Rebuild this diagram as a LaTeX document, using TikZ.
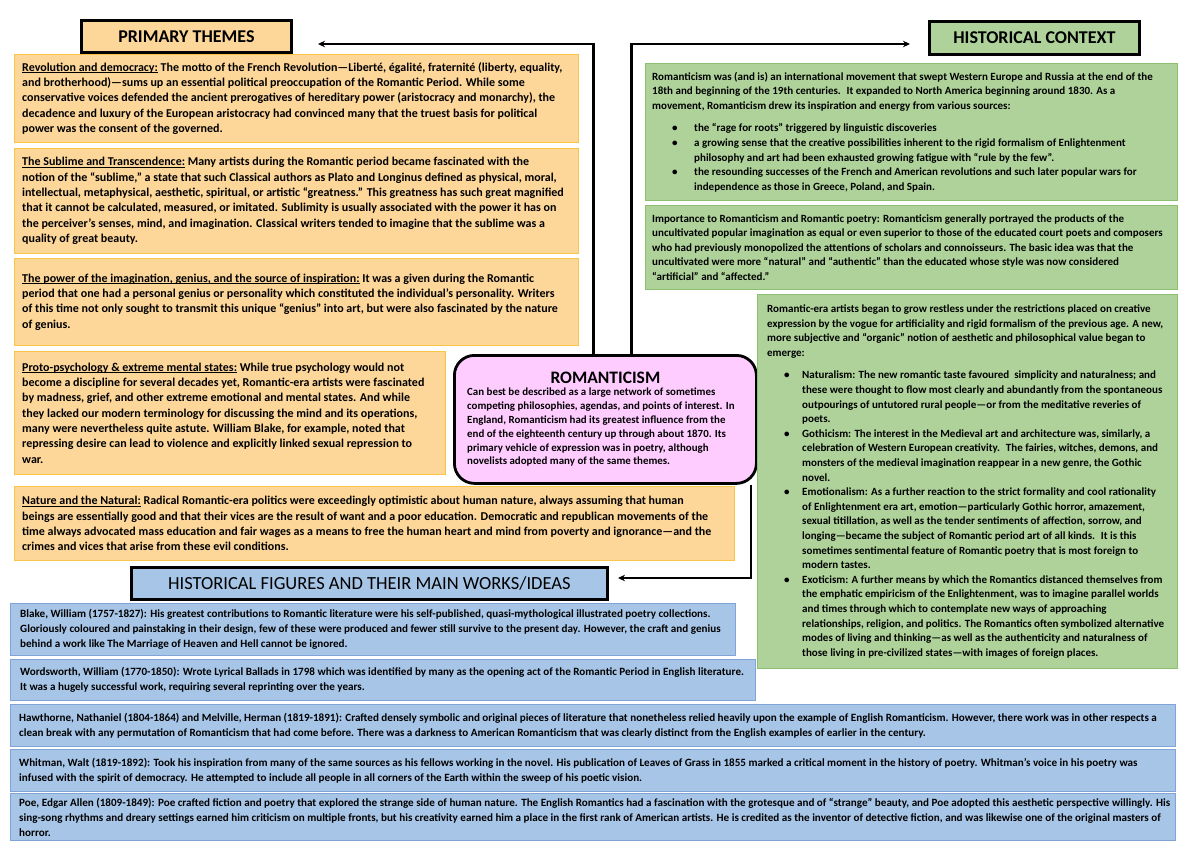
\documentclass[tikz,border=0pt]{standalone}
\usepackage{fontspec}
\setmainfont{Carlito}
\usetikzlibrary{arrows.meta}
\definecolor{ofill}{RGB}{253,214,153}
\definecolor{oline}{RGB}{250,196,70}
\definecolor{gfill}{RGB}{174,210,154}
\definecolor{gline}{RGB}{140,192,112}
\definecolor{bfill}{RGB}{167,197,231}
\definecolor{bline}{RGB}{128,164,214}
\definecolor{pfill}{RGB}{255,204,255}
\newcommand\gitemA[1]{\hspace*{20pt}\makebox[22pt][l]{\textbullet}#1}
\newcommand\gcontA[1]{\hspace*{42pt}#1}
\newcommand\gitemB[1]{\hspace*{17pt}\makebox[18pt][l]{\textbullet}#1}
\newcommand\gcontB[1]{\hspace*{35pt}#1}
\newcommand\myul[1]{\setbox0\hbox{#1}\rlap{\rule[-1.6pt]{\wd0}{0.7pt}}\box0\relax}
\tikzset{
  obox/.style={draw=oline, line width=1pt, fill=ofill, anchor=north west, inner sep=0pt},
  gbox/.style={draw=gline, line width=1pt, fill=gfill, anchor=north west, inner sep=0pt},
  bbox/.style={draw=bline, line width=1pt, fill=bfill, anchor=north west, inner sep=0pt},
  titlebox/.style={draw=black, line width=2.8pt, anchor=north west, inner sep=0pt},
  otext/.style={anchor=west, align=left, inner sep=0pt, font=\bfseries\fontsize{12}{15.3}\selectfont},
  gtext/.style={anchor=west, align=left, inner sep=0pt, font=\bfseries\fontsize{11}{14.6}\selectfont},
  btext/.style={anchor=west, align=left, inner sep=0pt, font=\bfseries\fontsize{11.1}{15}\selectfont},
  rtext/.style={anchor=north west, align=left, inner sep=0pt, font=\bfseries\fontsize{10.9}{13.8}\selectfont},
  conn/.style={draw=black, line width=2.2pt, -{Stealth[length=7pt,width=6.5pt]}},
}
\begin{document}
\begin{tikzpicture}[x=1pt,y=-1pt]
\fill[white] (0,0) rectangle (1200,848);
\useasboundingbox (0,0) rectangle (1200,848);

% ---------- titles ----------
\node[titlebox, fill=ofill, minimum width=210pt, minimum height=32pt, font=\bfseries\fontsize{18}{20}\selectfont] (pt) at (80,19) {PRIMARY THEMES};
\node[titlebox, fill=gfill, minimum width=210pt, minimum height=33pt, font=\bfseries\fontsize{18}{20}\selectfont] (hc) at (928,20) {HISTORICAL CONTEXT};
\node[titlebox, fill=bfill, minimum width=476pt, minimum height=32pt, font=\fontsize{18.5}{20}\selectfont] (hf) at (130,566) {HISTORICAL FIGURES AND THEIR MAIN WORKS/IDEAS};

% ---------- primary themes ----------
\node[obox, minimum width=564pt, minimum height=88pt] (rev) at (14,54) {};
\node[otext] (revT) at ([xshift=8pt]rev.west) {\myul{Revolution and democracy:} The motto of the French Revolution—Liberté, égalité, fraternité (liberty, equality,\\
and brotherhood)—sums up an essential political preoccupation of the Romantic Period. While some\\
conservative voices defended the ancient prerogatives of hereditary power (aristocracy and monarchy), the\\
decadence and luxury of the European aristocracy had convinced many that the truest basis for political\\
power was the consent of the governed.};

\node[obox, minimum width=564pt, minimum height=105pt] (sub) at (14,148) {};
\node[otext] (subT) at ([xshift=8pt]sub.west) {\myul{The Sublime and Transcendence:} Many artists during the Romantic period became fascinated with the\\
notion of the “sublime,” a state that such Classical authors as Plato and Longinus defined as physical, moral,\\
intellectual, metaphysical, aesthetic, spiritual, or artistic “greatness.” This greatness has such great magnified\\
that it cannot be calculated, measured, or imitated. Sublimity is usually associated with the power it has on\\
the perceiver’s senses, mind, and imagination. Classical writers tended to imagine that the sublime was a\\
quality of great beauty.};

\node[obox, minimum width=564pt, minimum height=87pt] (pow) at (14,258) {};
\node[otext] (powT) at ([xshift=8pt]pow.west) {\myul{The power of the imagination, genius, and the source of inspiration:} It was a given during the Romantic\\
period that one had a personal genius or personality which constituted the individual’s personality. Writers\\
of this time not only sought to transmit this unique “genius” into art, but were also fascinated by the nature\\
of genius.};

\node[obox, minimum width=431pt, minimum height=123pt] (pro) at (14,351) {};
\node[otext] (proT) at ([xshift=8pt]pro.west) {\myul{Proto-psychology \& extreme mental states:} While true psychology would not\\
become a discipline for several decades yet, Romantic-era artists were fascinated\\
by madness, grief, and other extreme emotional and mental states. And while\\
they lacked our modern terminology for discussing the mind and its operations,\\
many were nevertheless quite astute. William Blake, for example, noted that\\
repressing desire can lead to violence and explicitly linked sexual repression to\\
war.};

\node[obox, minimum width=720pt, minimum height=74pt] (nat) at (14,486) {};
\node[otext] (natT) at ([xshift=8pt]nat.west) {\myul{Nature and the Natural:} Radical Romantic-era politics were exceedingly optimistic about human nature, always assuming that human\\
beings are essentially good and that their vices are the result of want and a poor education. Democratic and republican movements of the\\
time always advocated mass education and fair wages as a means to free the human heart and mind from poverty and ignorance—and the\\
crimes and vices that arise from these evil conditions.};

% ---------- central ----------
\node[draw=black, line width=2.8pt, fill=pfill, rounded corners=20pt, anchor=north west, inner sep=0pt, minimum width=302pt, minimum height=128pt] (rom) at (453,354) {};
\node[anchor=center, inner sep=0pt, font=\bfseries\fontsize{17.5}{20}\selectfont] (romH) at ([yshift=-24pt]rom.north) {ROMANTICISM};
\node[rtext] (romT) at ([xshift=14pt,yshift=-34pt]rom.north west) {Can best be described as a large network of sometimes\\
competing philosophies, agendas, and points of interest. In\\
England, Romanticism had its greatest influence from the\\
end of the eighteenth century up through about 1870. Its\\
primary vehicle of expression was in poetry, although\\
novelists adopted many of the same themes.};

% ---------- historical context ----------
\node[gbox, minimum width=532pt, minimum height=137pt] (g1) at (645,63) {};
\node[gtext] (g1T) at ([xshift=7pt]g1.west) {Romanticism was (and is) an international movement that swept Western Europe and Russia at the end of the\\
18th and beginning of the 19th centuries.~ It expanded to North America beginning around 1830. As a\\
movement, Romanticism drew its inspiration and energy from various sources:\\[8pt]
\gitemA{the “rage for roots” triggered by linguistic discoveries}\\
\gitemA{a growing sense that the creative possibilities inherent to the rigid formalism of Enlightenment}\\
\gcontA{philosophy and art had been exhausted growing fatigue with “rule by the few”.}\\
\gitemA{the resounding successes of the French and American revolutions and such later popular wars for}\\
\gcontA{independence as those in Greece, Poland, and Spain.}};

\node[gbox, minimum width=532pt, minimum height=84pt] (g2) at (645,205) {};
\node[gtext] (g2T) at ([xshift=7pt]g2.west) {Importance to Romanticism and Romantic poetry: Romanticism generally portrayed the products of the\\
uncultivated popular imagination as equal or even superior to those of the educated court poets and composers\\
who had previously monopolized the attentions of scholars and connoisseurs. The basic idea was that the\\
uncultivated were more “natural” and “authentic” than the educated whose style was now considered\\
“artificial” and “affected.”};

\node[gbox, minimum width=420pt, minimum height=374pt] (g3) at (757,294) {};
\node[gtext] (g3T) at ([xshift=10pt]g3.west) {Romantic-era artists began to grow restless under the restrictions placed on creative\\
expression by the vogue for artificiality and rigid formalism of the previous age. A new,\\
more subjective and “organic” notion of aesthetic and philosophical value began to\\
emerge:\\[8pt]
\gitemB{Naturalism: The new romantic taste favoured~ simplicity and naturalness; and}\\
\gcontB{these were thought to flow most clearly and abundantly from the spontaneous}\\
\gcontB{outpourings of untutored rural people—or from the meditative reveries of}\\
\gcontB{poets.}\\
\gitemB{Gothicism: The interest in the Medieval art and architecture was, similarly, a}\\
\gcontB{celebration of Western European creativity.~ The fairies, witches, demons, and}\\
\gcontB{monsters of the medieval imagination reappear in a new genre, the Gothic}\\
\gcontB{novel.}\\
\gitemB{Emotionalism: As a further reaction to the strict formality and cool rationality}\\
\gcontB{of Enlightenment era art, emotion—particularly Gothic horror, amazement,}\\
\gcontB{sexual titillation, as well as the tender sentiments of affection, sorrow, and}\\
\gcontB{longing—became the subject of Romantic period art of all kinds.~ It is this}\\
\gcontB{sometimes sentimental feature of Romantic poetry that is most foreign to}\\
\gcontB{modern tastes.}\\
\gitemB{Exoticism: A further means by which the Romantics distanced themselves from}\\
\gcontB{the emphatic empiricism of the Enlightenment, was to imagine parallel worlds}\\
\gcontB{and times through which to contemplate new ways of approaching}\\
\gcontB{relationships, religion, and politics. The Romantics often symbolized alternative}\\
\gcontB{modes of living and thinking—as well as the authenticity and naturalness of}\\
\gcontB{those living in pre-civilized states—with images of foreign places.}};

% ---------- historical figures ----------
\node[bbox, minimum width=725pt, minimum height=52pt] (blake) at (10,603) {};
\node[btext] (blakeT) at ([xshift=10pt]blake.west) {Blake, William (1757-1827): His greatest contributions to Romantic literature were his self-published, quasi-mythological illustrated poetry collections.\\
Gloriously coloured and painstaking in their design, few of these were produced and fewer still survive to the present day. However, the craft and genius\\
behind a work like The Marriage of Heaven and Hell cannot be ignored.};

\node[bbox, minimum width=745pt, minimum height=41pt] (words) at (10,659) {};
\node[btext] (wordsT) at ([xshift=10pt]words.west) {Wordsworth, William (1770-1850): Wrote Lyrical Ballads in 1798 which was identified by many as the opening act of the Romantic Period in English literature.\\
It was a hugely successful work, requiring several reprinting over the years.};

\node[bbox, minimum width=1165pt, minimum height=42pt] (haw) at (10,704) {};
\node[btext] (hawT) at ([xshift=9pt]haw.west) {Hawthorne, Nathaniel (1804-1864) and Melville, Herman (1819-1891): Crafted densely symbolic and original pieces of literature that nonetheless relied heavily upon the example of English Romanticism. However, there work was in other respects a\\
clean break with any permutation of Romanticism that had come before. There was a darkness to American Romanticism that was clearly distinct from the English examples of earlier in the century.};

\node[bbox, minimum width=1165pt, minimum height=42pt] (whit) at (10,749) {};
\node[btext] (whitT) at ([xshift=9pt]whit.west) {Whitman, Walt (1819-1892): Took his inspiration from many of the same sources as his fellows working in the novel. His publication of Leaves of Grass in 1855 marked a critical moment in the history of poetry. Whitman’s voice in his poetry was\\
infused with the spirit of democracy. He attempted to include all people in all corners of the Earth within the sweep of his poetic vision.};

\node[bbox, minimum width=1165pt, minimum height=47pt] (poe) at (10,793) {};
\node[btext] (poeT) at ([xshift=9pt]poe.west) {Poe, Edgar Allen (1809-1849): Poe crafted fiction and poetry that explored the strange side of human nature. The English Romantics had a fascination with the grotesque and of “strange” beauty, and Poe adopted this aesthetic perspective willingly. His\\
sing-song rhythms and dreary settings earned him criticism on multiple fronts, but his creativity earned him a place in the first rank of American artists. He is credited as the inventor of detective fiction, and was likewise one of the original masters of\\
horror.};

% ---------- connectors ----------
\coordinate (ptTip) at (318,44);
\coordinate (hcTip) at (910,44);
\coordinate (hfTip) at (618,578);
\draw[conn] ([xshift=-12pt]rom.north) |- (ptTip);
\draw[conn] ([xshift=26pt]rom.north) |- (hcTip);
\draw[conn] ([xshift=-7pt]rom.south east) |- (hfTip);
\end{tikzpicture}
\end{document}
